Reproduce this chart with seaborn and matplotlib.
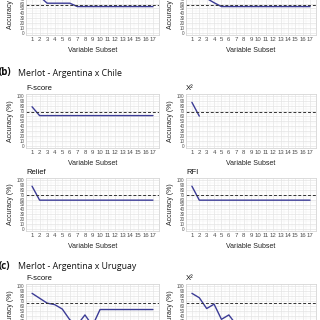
import matplotlib
matplotlib.use("Agg")
import matplotlib.pyplot as plt
import seaborn as sns
import numpy as np

# variable subsets on x axis
subsets = list(range(1, 18))
nan = np.nan

# (a) partial panels (only bottom visible)
a_fscore = [85, 75, 61, 61, 61, 61, 54, 54, 54, 54, 54, 54, 54, 54, 54, 54, 54]
a_chi2 = [85, 78, 71, 62, 54, 54, 54, 54, 54, 54, 54, 54, 54, 54, 54, 54, 54]
a_baseline = 57

# (b) Merlot - Argentina x Chile
b_fscore = [79, 61, 61, 61, 61, 61, 61, 61, 61, 61, 61, 61, 61, 61, 61, 61, 61]
b_chi2 = [88, 60] + [nan] * 15
b_relief = [88, 59, 59, 59, 59, 59, 59, 59, 59, 59, 59, 59, 59, 59, 59, 59, 59]
b_rfi = [88, 59, 59, 59, 59, 59, 59, 59, 59, 59, 59, 59, 59, 59, 59, 59, 59]
b_baseline = 69

# (c) Merlot - Argentina x Uruguay
c_fscore = [86, 76, 66, 63, 54, 32, 22, 42, 20, 53, 53, 53, 53, 53, 53, 53, 53]
c_chi2 = [86, 77, 55, 64, 33, 42, 22] + [nan] * 10
c_baseline = 66

sns.set_theme(style="whitegrid")
plt.rcParams['font.family'] = ['Liberation Sans', 'DejaVu Sans']

LINE = "#3C3C96"
W = H = 320.0

fig = plt.figure(figsize=(3.2, 3.2), dpi=100)


def make_ax(x0, x1, y0, y1):
    return fig.add_axes([x0 / W, 1 - y1 / H, (x1 - x0) / W, (y1 - y0) / H])


def draw(ax, values, baseline, title=None):
    sns.lineplot(x=subsets, y=values, ax=ax, color=LINE, linewidth=1.0)
    ax.axhline(baseline, color="#333333", linewidth=0.7, linestyle=(0, (3, 2)))
    ax.set_xlim(0.2, 17.8)
    ax.set_ylim(-5, 105)
    ax.set_xticks(subsets)
    ax.set_xticks(np.arange(1.5, 17, 1), minor=True)
    ax.set_yticks(range(0, 101, 10))
    ax.set_yticks(range(5, 101, 10), minor=True)
    ax.grid(True, which="major", color="#E4E4E4", linewidth=0.5)
    ax.grid(True, which="minor", color="#F0F0F0", linewidth=0.35)
    ax.tick_params(axis="x", labelsize=4.3, colors="#4D4D4D", length=0, pad=1.5)
    ax.tick_params(axis="y", labelsize=3.3, colors="#4D4D4D", length=0, pad=1)
    for s in ax.spines.values():
        s.set_color("#D6D6D6")
        s.set_linewidth(0.6)
    ax.set_xlabel("Variable Subset", fontsize=5, color="#222222", labelpad=1.5)
    ax.set_ylabel("Accuracy (%)", fontsize=5, color="#222222", labelpad=1.5)
    if title:
        ax.set_title(title, loc="left", fontsize=5.5, pad=3, color="#111111")


LX = (26, 159)
RX = (186, 316)

# row (a) - cut off at top
draw(make_ax(*LX, -18, 35), a_fscore, a_baseline)
draw(make_ax(*RX, -18, 35), a_chi2, a_baseline)

# row (b)
draw(make_ax(*LX, 94, 148), b_fscore, b_baseline, "F-score")
draw(make_ax(*RX, 94, 148), b_chi2, b_baseline, "X²")
draw(make_ax(*LX, 178, 231), b_relief, b_baseline, "Relief")
draw(make_ax(*RX, 178, 231), b_rfi, b_baseline, "RFI")

# row (c) - cut off at bottom
draw(make_ax(*LX, 284, 338), c_fscore, c_baseline, "F-score")
draw(make_ax(*RX, 284, 338), c_chi2, c_baseline, "X²")

# section headings
head = dict(family=['Open Sans', 'DejaVu Sans'], va="center", color="#111111")
fig.text(-1 / W, 1 - 73 / H, "(b)", weight="bold", fontsize=7, **head)
fig.text(18 / W, 1 - 73 / H, "Merlot - Argentina x Chile", fontsize=6.3, **head)
fig.text(-1 / W, 1 - 266.5 / H, "(c)", weight="bold", fontsize=7, **head)
fig.text(18 / W, 1 - 266.5 / H, "Merlot - Argentina x Uruguay", fontsize=6.3, **head)

fig.savefig("out.png", dpi=100)
